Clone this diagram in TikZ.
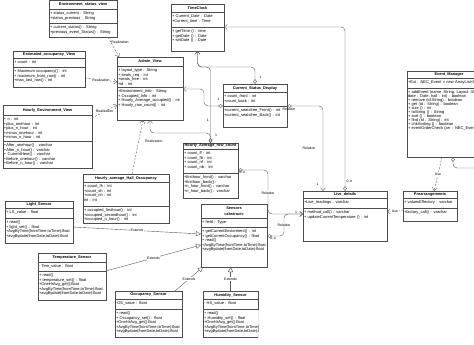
\documentclass[tikz,border=0pt]{standalone}
\usepackage{fontspec}
\setmainfont{Liberation Sans}
\usetikzlibrary{positioning,arrows.meta}

\begin{document}
\begin{tikzpicture}[x=1pt,y=-1pt,
		ttl/.style={rectangle,draw=black!70,fill=white,outer sep=0pt,inner sep=0.5pt,align=center,minimum height=#1,font=\fontsize{3.9}{4.45}\selectfont\bfseries},
		cmp/.style={rectangle,draw=black!70,fill=white,outer sep=0pt,inner xsep=1pt,inner ysep=0.8pt,align=left,text height=5pt,text depth={#1-6.6pt},font=\fontsize{4}{4.45}\selectfont},
		lbl/.style={font=\fontsize{3.5}{4}\selectfont,inner sep=0.4pt},
		as/.style={draw=black!65,thin,rounded corners=4pt,{Diamond[open,length=5pt,width=3.5pt]}-{Straight Barb[length=3pt,width=5pt]}},
		dep/.style={draw=black!65,thin,dash pattern=on 2pt off 1.5pt,-{Straight Barb[length=3pt,width=5pt]}},
		gen/.style={draw=black!65,thin,-{Triangle[open,length=5pt,width=5pt]}}
		]
		\useasboundingbox (0,0) rectangle (474,345);
		
		% views
		\node [ttl=9pt,minimum width=68pt,anchor=north west] (envT) at (49,0) {Environment\_status\_view};
		\node [cmp=14pt,text width=66pt,below=0pt of envT] (envA) {+ status\_current : String\\+status\_previous : String};
		\node [cmp=14pt,text width=66pt,below=0pt of envA] (envM) {+ current\_status() : String\\+previous\_event\_Status() : String};
		
		\node [ttl=7pt,minimum width=72pt,anchor=north west] (estT) at (13,51) {Estimated\_occupancy\_View};
		\node [cmp=9pt,text width=70pt,below=0pt of estT] (estA) {+ count : int};
		\node [cmp=20pt,text width=70pt,below=0pt of estA] (estM) {+ Maximum occupancy() : int\\+ maximum\_front\_row() : int\\+max\_last\_row() : int};
		
		\node [ttl=9pt,minimum width=66pt,anchor=north west] (admT) at (117,57) {Admin\_View};
		\node [cmp=21pt,text width=64pt,below=0pt of admT] (admA) {+ layout\_type : String\\+ seats\_req : int\\+seats\_free : int\\+id : int};
		\node [cmp=33pt,text width=64pt,below=0pt of admA] (admM) {+Environment\_Info : String\\+ Occupied\_Info : int\\+ Hourly\_Average\_occupied() : int\\+ Hourly\_row\_count() : int};
		
		\node [ttl=10pt,minimum width=89pt,anchor=north west] (hevT) at (3,105) {Hourly\_Environment\_View};
		\node [cmp=26pt,text width=87pt,below=0pt of hevT] (hevA) {+ n : int\\+plus\_onehour : int\\+plus\_n\_hour : int\\+minus\_onehour : int\\+minus\_n\_hour : int};
		\node [cmp=27pt,text width=87pt,below=0pt of hevA] (hevM) {+After\_onehour() : varchar\\+After\_n\_hour() : varchar\\+ CurrentHere() : varchar\\+Before\_onehour() : varchar\\+Before\_n\_hour() : varchar};
		
		\node [ttl=8pt,minimum width=53pt,anchor=north west] (tcT) at (171,4) {TimeClock};
		\node [cmp=15pt,text width=51pt,below=0pt of tcT] (tcA) {+ Current\_Date : Date\\+Current\_time : Time};
		\node [cmp=24pt,text width=51pt,below=0pt of tcA] (tcM) {+ getTime () : time\\+ getDate () : Date\\+ setDate () : Date};
		
		\node [ttl=8pt,minimum width=64pt,anchor=north west] (csdT) at (223,84) {Current\_Status\_Display};
		\node [cmp=14pt,text width=62pt,below=0pt of csdT] (csdA) {+ count\_front : int\\+count\_back : int};
		\node [cmp=21pt,text width=62pt,below=0pt of csdA] (csdM) {+current\_seatsfree\_Front() : int\\+current\_seatsfree\_Back() : int};
		
		\node [ttl=6pt,minimum width=55pt,anchor=north west] (rcT) at (183,143) {Hourly\_Average\_row\_count};
		\node [cmp=24pt,text width=53pt,below=0pt of rcT] (rcA) {+ count\_ff : int\\+ count\_fb : int\\+ count\_nf : int\\+ count\_nb : int};
		\node [cmp=25pt,text width=53pt,below=0pt of rcA] (rcM) {+firsthour\_front() : varchar\\+firsthour\_back() :\\+n\_hour\_front() : varchar\\+n\_hour\_back() : varchar};
		
		\node [ttl=8pt,minimum width=86pt,anchor=north west] (hallT) at (83,174) {Hourly\_average\_Hall\_Occupancy};
		\node [cmp=24pt,text width=84pt,below=0pt of hallT] (hallA) {+ count\_fh : int\\+count\_sh : int\\+count\_nh : int\\int : int};
		\node [cmp=17pt,text width=84pt,below=0pt of hallA] (hallM) {+ occupied\_firsthour() : int\\+occupied\_secondhour() : int\\+occupied\_n\_hour() : int};
		
		% sensors
		\node [ttl=14pt,minimum width=66pt,anchor=north west] (sensT) at (201,204) {Sensors\\[1.8pt]«abstract»};
		\node [cmp=9pt,text width=64pt,below=0pt of sensT] (sensA) {+ field : Type};
		\node [cmp=40pt,text width=64pt,below=0pt of sensA] (sensM) {+ getCurrentEnviorment() : int\\+ getCurrentOccupancy() : float\\+ read()\\+AvgByTime(fromTime,toTime):float\\+avgBydate(fromDate,toDate):float};
		
		\node [ttl=7pt,minimum width=68pt,anchor=north west] (lightT) at (5,201) {Light\_Sensor};
		\node [cmp=10pt,text width=66pt,below=0pt of lightT] (lightA) {+ LS\_value : float};
		\node [cmp=25pt,text width=66pt,below=0pt of lightA] (lightM) {+ read()\\+ light\_set() : float\\+AvgByTime(fromTime,toTime):float\\+avgBydate(fromDate,toDate):float};
		
		\node [ttl=9pt,minimum width=68pt,anchor=north west] (tempT) at (38,253) {Temperature\_Sensor};
		\node [cmp=9pt,text width=66pt,below=0pt of tempT] (tempA) {- Tem\_value : float};
		\node [cmp=29pt,text width=66pt,below=0pt of tempA] (tempM) {+ read()\\+ temperature\_set() : float\\+OneHrAvg\_get():float\\+AvgByTime(fromTime,toTime):float\\+avgBydate(fromDate,toDate):float};
		
		\node [ttl=8pt,minimum width=67pt,anchor=north west] (occT) at (115,291) {Occupancy\_Sensor};
		\node [cmp=10pt,text width=65pt,below=0pt of occT] (occA) {-OS\_value : float};
		\node [cmp=28pt,text width=65pt,below=0pt of occA] (occM) {+ read()\\+ Occupancy\_set() : float\\+OneHrAvg\_get():float\\+AvgByTime(fromTime,toTime):float\\+avgBydate(fromDate,toDate):float};
		
		\node [ttl=8pt,minimum width=55pt,anchor=north west] (humT) at (203,291) {Humidity\_Sensor};
		\node [cmp=10pt,text width=53pt,below=0pt of humT] (humA) {- HS\_value : float};
		\begin{scope}
			\clip ([xshift=-1pt]humA.south west) rectangle ([xshift=0.2pt,yshift=-40pt]humA.south east);
			\node [cmp=28pt,text width=53pt,below=0pt of humA] (humM) {+ read()\\+ Humidity\_set() : float\\+OneHrAvg\_get():float\\+AvgByTime(fromTime,toTime):float\\+avgBydate(fromDate,toDate):float};
		\end{scope}
		
		% live data
		\node [ttl=7pt,minimum width=84pt,anchor=north west] (liveT) at (303,191) {Live\_details};
		\node [cmp=10pt,text width=82pt,below=0pt of liveT] (liveA) {+Live\_readings : varchar};
		\node [cmp=33pt,text width=82pt,below=0pt of liveA] (liveM) {+ method\_call() : varchar\\+ updateCurrentTemperature () : int};
		
		\node [ttl=7pt,minimum width=54pt,anchor=north west] (preT) at (403,191) {Prearrangements};
		\node [cmp=10pt,text width=52pt,below=0pt of preT] (preA) {+ valuesEffectory : varchar};
		\node [cmp=13pt,text width=52pt,below=0pt of preA] (preM) {+factory\_call() : varchar};
		
		\node [ttl=7pt,minimum width=84pt,anchor=north west] (evmT) at (407,71) {Event\_Manager};
		\node [cmp=10pt,text width=150pt,anchor=north west] (evmA) at (evmT.south west) {+Evt : NEC\_Event = new ArrayList<NEC\_Event>()};
		\node [cmp=69pt,text width=150pt,anchor=north west,font=\fontsize{4}{4}\selectfont] (evmM) at (evmA.south west) {+ addEvent (name :String, Layout :String,\\date : Date, hall : int) : boolean\\+ remove (id:String) : boolean\\+ get (id : String) : boolean\\+ size () : int\\+ toString () : String\\+ sort () : boolean\\+ find (id : String) : int\\+ chkSorting () : boolean\\+ eventOrderCheck (arr : NEC\_Event[]) : boolean};
		\coordinate (evmB) at (evmT.south |- evmM.south);
		\coordinate (evmOut) at (480,168);
		
		% realizations
		\path [dep] ([xshift=-9pt]envM.south east) -- node [lbl,pos=0.25,right] {Realization} ([xshift=2pt]admT.north west);
		\path [dep] ([yshift=-1pt]estM.east) -- node [lbl,fill=white] {Realization} ([yshift=-5.5pt]admA.west);
		\path [dep] ([yshift=-3pt]hevA.north east) -- node [lbl,fill=white] {Realization} ([yshift=-1.5pt]admM.west);
		\path [dep] ([xshift=6pt]hallT.north) -- node [lbl,pos=0.6,right=6pt] {Realization} ([xshift=-7pt]admM.south);
		
		% associations
		\path [as] (csdT.north) |- node [lbl,pos=0.2,right=4pt] {1} ([yshift=-16pt]tcM.south) -- (tcM.south);
		\path [as] (rcT.north) |- node [lbl,pos=0.15,left=1pt] {1} ([yshift=-16pt]tcM.south) -- (tcM.south);
		\path [as] (csdA.south west) -- node [lbl,pos=0.25,above=5pt] {1} ++(-19,0) |- ([yshift=-2pt]admM.north east);
		\path [as] (rcT.north) -- node [lbl,pos=0.8,right=4pt] {1} ++(0,-10) -| (admM.south);
		\path [as] (csdA.south east) -| node [lbl,pos=0,anchor=north west,xshift=-5pt,yshift=-1.2pt] {Relation} node [lbl,pos=0.75,left=7pt] {Relation} node [lbl,pos=0.96,left=4pt] {1} ([xshift=-22pt]liveT.north);
		\path [as] (liveT.north) |- node [lbl,pos=0.03,right=1pt] {0..n} (tcM.north east);
		\path [as] ([yshift=3pt]rcA.south east) -- node [lbl,pos=0.15,below] {0..n} ++(30,0) |- node [lbl,pos=0.26,fill=white] {Relation} node [lbl,pos=0.9,above] {1} ([yshift=-6pt]liveM.north west);
		\path [as] ([yshift=-9pt]sensM.north east) -- node [lbl,pos=0.35,below] {0..n} ++(17,0) |- node [lbl,pos=0.25,fill=white] {Relation} ([yshift=-6pt]liveM.north west);
		\path [draw=black!65,thin,rounded corners=4pt,{Diamond[open,length=5pt,width=3.5pt]}-] ([xshift=4pt]evmB) |- (evmOut);
		
		% uses
		\path [dep] ([yshift=-2pt]preM.north west) -- node [lbl,fill=white] {Use} ([yshift=-4pt]liveM.north east);
		\path [dep] ([xshift=-7pt]evmB) -- node [lbl,fill=white] {Use} ([xshift=4pt]preT.north);
		
		% extends
		\path [gen] ([yshift=3.5pt]lightM.east) -- node [lbl,fill=white] {Extends} ([yshift=-7pt]sensM.north west);
		\path [gen] (tempA.south east) -- node [lbl,fill=white] {Extends} ([yshift=-18pt]sensM.north west);
		\path [gen] ([xshift=-7pt]occT.north east) -- node [lbl,fill=white] {Extends} ([xshift=2pt]sensM.south west);
		\path [gen] (humT.north) -- node [lbl,fill=white] {Extends} (humT.north |- sensM.south);
		
	\end{tikzpicture}
\end{document}
